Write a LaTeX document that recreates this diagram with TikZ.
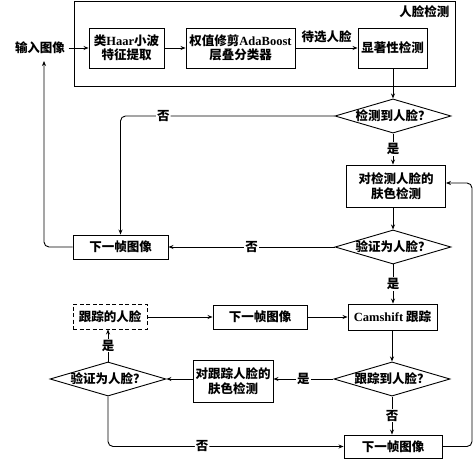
\documentclass[tikz,border=0pt]{standalone}
\usepackage{fontspec}
\setmainfont{Noto Sans CJK SC}
\newfontfamily\latf{Liberation Serif}
\usetikzlibrary{shapes.geometric,arrows.meta}
\newcommand\lat[1]{{\latf\bfseries #1}}
\begin{document}
\begin{tikzpicture}[x=1pt,y=-1pt,
  every node/.style={font=\fontsize{12.5}{14.5}\selectfont\bfseries},
  box/.style={draw,line width=0.9pt,inner sep=0pt,align=center},
  dia/.style={draw,diamond,line width=0.9pt,inner sep=0pt,aspect=3.4},
  conn/.style={line width=0.9pt,-{Stealth[length=5pt,width=4pt]}},
  lbl/.style={fill=white,inner sep=1pt}]
\useasboundingbox (0,0) rectangle (474,460);
% outer group box
\draw[line width=0.9pt] (74,1.5) rectangle (455,86);
\node[anchor=east] (grp) at (453,12) {人脸检测};
% nodes
\node (inp) at (40,48) {输入图像};
\node[box,minimum width=75,minimum height=40] (h1) at (126.5,48) {类\lat{Haar}小波\\特征提取};
\node[box,minimum width=109,minimum height=40] (h2) at (240.5,48) {权值修剪\lat{AdaBoost}\\层叠分类器};
\node[box,minimum width=69,minimum height=40] (h3) at (392.5,48) {显著性检测};
\node[dia,minimum width=110,minimum height=32] (d1) at (393,116) {检测到人脸？};
\node[box,minimum width=99,minimum height=42] (b1) at (396,186) {对检测人脸的\\肤色检测};
\node[dia,minimum width=111,minimum height=31] (d2) at (393,247) {验证为人脸？};
\node[box,minimum width=95,minimum height=24] (n1) at (120.5,247) {下一帧图像};
\node[box,dash pattern=on 4pt off 2.5pt,minimum width=74,minimum height=25] (t1) at (110,316.5) {跟踪的人脸};
\node[box,minimum width=94,minimum height=24] (n2) at (260,317) {下一帧图像};
\node[box,minimum width=89,minimum height=26] (c1) at (392.5,317) {\lat{Camshift} 跟踪};
\node[dia,minimum width=112,minimum height=32] (d3) at (392,379) {跟踪到人脸？};
\node[box,minimum width=80,minimum height=42] (b2) at (233,381) {对跟踪人脸的\\肤色检测};
\node[dia,minimum width=112,minimum height=32] (d4) at (108,379) {验证为人脸？};
\node[box,minimum width=98,minimum height=23] (n3) at (393,446.5) {下一帧图像};
\coordinate (inb) at (44,61);
\coordinate (rt) at (472,183);
% connectors
\draw[conn] (inp) -- (h1);
\draw[conn] (h1) -- (h2);
\draw[conn] (h2) -- node[above=1pt] {待选人脸} (h2 -| h3.west);
\draw[conn] (h3.south -| d1.north) -- (d1.north);
\draw[conn,rounded corners=5pt] (d1.west) -- node[pos=0.8,lbl] {否} (d1.west -| n1.north) -- (n1.north);
\draw[conn] (d1.south) -- node[lbl] {是} (d1.south |- b1.north);
\draw[conn] (b1.south -| d2.north) -- (d2.north);
\draw[conn] (d2.west) -- node[lbl] {否} (n1.east);
\draw[conn,rounded corners=5pt] (n1.west) -- (n1.west -| inb) -- (inb);
\draw[conn] (d2.south) -- node[lbl] {是} (d2.south |- c1.north);
\draw[conn] (c1.south -| d3.north) -- (d3.north);
\draw[conn] (d3.west) -- node[lbl] {是} (d3.west -| b2.east);
\draw[conn] (b2.west |- d4.east) -- (d4.east);
\draw[conn] (d4.north) -- node[lbl] {是} (d4.north |- t1.south);
\draw[conn] (t1.east |- n2.west) -- (n2.west);
\draw[conn] (n2.east) -- (n2.east -| c1.west);
\draw[conn] (d3.south) -- node[lbl] {否} (d3.south |- n3.north);
\draw[conn,rounded corners=5pt] (d4.south) -- (d4.south |- n3.west) -- node[pos=0.4,lbl] {否} (n3.west);
\draw[conn,rounded corners=5pt] (n3.east) -- (n3.east -| rt) -- (rt) -- (rt -| b1.east);
\end{tikzpicture}
\end{document}
